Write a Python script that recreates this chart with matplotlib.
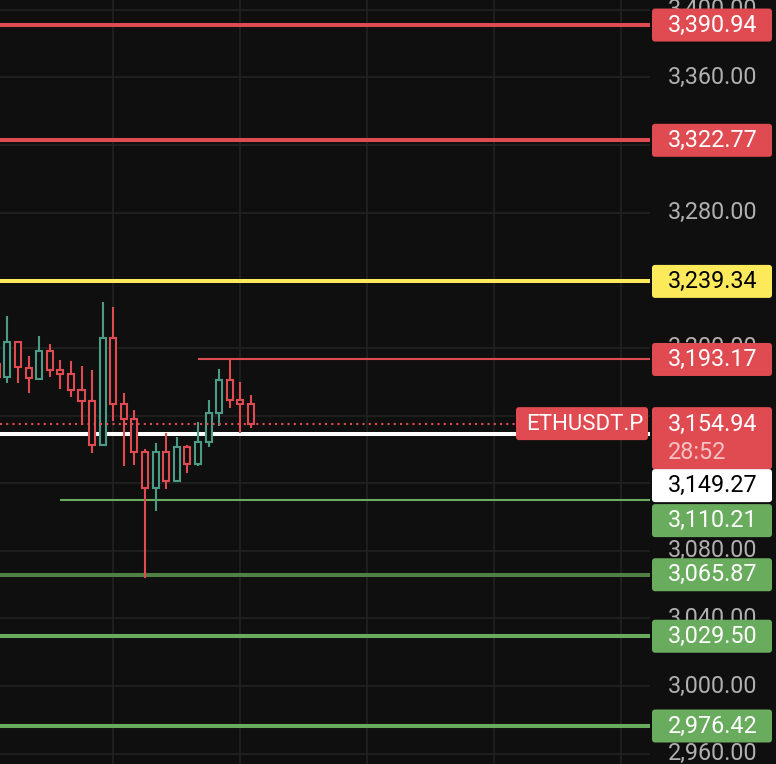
import matplotlib.pyplot as plt
from matplotlib.patches import Rectangle, FancyBboxPatch

plt.rcParams['font.family'] = ['Roboto', 'DejaVu Sans']

# candles (hourly), oldest first; the first one is mostly off-screen
opens = [3190.5, 3182.8, 3203.5, 3188.1, 3181.6, 3198.2, 3187.0, 3184.6, 3175.1, 3168.6,
         3142.6, 3205.9, 3166.8, 3158.0, 3138.4, 3117.2, 3138.4, 3121.3, 3141.4, 3131.3,
         3144.4, 3161.5, 3181.0, 3169.2, 3166.8]
highs = [3194.0, 3218.9, 3204.1, 3195.2, 3207.1, 3202.3, 3192.9, 3192.3, 3189.3, 3187.0,
         3227.2, 3224.2, 3173.4, 3163.3, 3140.2, 3143.8, 3149.7, 3147.3, 3142.6, 3156.2,
         3169.2, 3187.5, 3193.17, 3179.8, 3172.2]
lows = [3180.0, 3179.3, 3179.3, 3173.4, 3181.0, 3182.8, 3175.7, 3171.0, 3154.4, 3137.9,
        3142.6, 3156.8, 3130.2, 3130.8, 3063.9, 3103.6, 3116.6, 3121.3, 3126.0, 3130.2,
        3141.4, 3153.8, 3164.5, 3149.7, 3152.6]
closes = [3182.8, 3203.5, 3188.7, 3182.2, 3198.2, 3187.0, 3184.6, 3175.1, 3168.6, 3142.6,
          3205.9, 3166.8, 3158.0, 3138.4, 3117.2, 3138.4, 3121.3, 3141.4, 3131.3, 3144.4,
          3161.5, 3181.0, 3169.2, 3166.8, 3154.94]

# horizontal levels
levels = [3390.94, 3322.77, 3239.34, 3193.17, 3110.21, 3065.87, 3029.50, 2976.42]
level_colors = ['#e04b51', '#e04b51', '#fdea5a', '#e04b51', '#6aac5e', '#4f8044', '#6aac5e', '#6aac5e']
level_thick = [True, True, True, False, False, True, True, True]
level_start = [None, None, None, 19, 6, None, None, None]
label_colors = ['#e04b51', '#e04b51', '#fdea5a', '#e04b51', '#6aac5e', '#6aac5e', '#6aac5e', '#6aac5e']
label_text_colors = ['white', 'white', 'black', 'white', 'white', 'white', 'white', 'white']

last_price = 3154.94
countdown = '28:52'
symbol = 'ETHUSDT.P'
white_level = 3149.27

grid_prices = list(range(2960, 3401, 40))
# price-scale labels that are not fully covered by a tag
tick_prices = [3400, 3360, 3280, 3200, 3080, 3040, 3000, 2960]

BG = '#0f0f0f'
GRID = '#222222'
RED = '#e04b51'
GREEN = '#4a9c86'

W, H = 776, 764
plot_w = 650
ylo, yhi = 2953.95, 3405.75
ppu = H / (yhi - ylo)  # pixels per price unit

fig = plt.figure(figsize=(W / 100, H / 100), dpi=100, facecolor=BG)
ax = fig.add_axes([0, 0, plot_w / W, 1])
ax.set_facecolor(BG)
ax.set_xlim(0.3, 61.7)
ax.set_ylim(ylo, yhi)
ax.axis('off')
ax.patch.set_visible(True)

for p in grid_prices:
    ax.axhline(p, color=GRID, lw=1.2, zorder=0)
for k in [11, 23, 35, 47, 59]:
    ax.axvline(k, color=GRID, lw=1.2, zorder=0)

# candles: hollow bodies, wicks stop at the body
bw = 0.57
for i, (o, h, l, c) in enumerate(zip(opens, highs, lows, closes)):
    col = GREEN if c >= o else RED
    top, bot = max(o, c), min(o, c)
    ax.vlines(i, top, h, color=col, lw=1.5, zorder=3)
    ax.vlines(i, l, bot, color=col, lw=1.5, zorder=3)
    ax.add_patch(Rectangle((i - bw / 2, bot), bw, max(top - bot, 0.8),
                           facecolor=BG, edgecolor=col, lw=1.5, zorder=4))

for p, col, thick, st in zip(levels, level_colors, level_thick, level_start):
    x0 = 0.3 if st is None else st
    ax.hlines(p, x0, 61.7, color=col, lw=2.9 if thick else 1.5, zorder=2)

ax.axhline(white_level, color='white', lw=2.9, zorder=2)
ax.axhline(last_price, color=RED, lw=1.5, ls=(0, (1, 2)), zorder=5)

# overlay in figure pixels (x) and price (y) for the price scale
ov = fig.add_axes([0, 0, 1, 1])
ov.set_xlim(0, W)
ov.set_ylim(ylo, yhi)
ov.axis('off')
ov.patch.set_alpha(0)

fs = 16.8
tx = 668
for p in tick_prices:
    ov.text(tx, p, f'{p:,.2f}', color='#b0b0b0', fontsize=fs, va='center', ha='left', zorder=1)

box_h = 33 / ppu


def box(y_top, y_bot, color, x0=652, x1=772):
    ov.add_patch(FancyBboxPatch((x0, y_bot), x1 - x0, y_top - y_bot,
                                boxstyle='round,pad=0,rounding_size=3',
                                mutation_aspect=1 / ppu,
                                facecolor=color, edgecolor='none', zorder=3))


# fixed level labels
for p, col, tcol in zip(levels, label_colors, label_text_colors):
    if p == 3110.21:
        continue
    box(p + box_h / 2, p - box_h / 2, col)
    ov.text(tx, p, f'{p:,.2f}', color=tcol, fontsize=fs, va='center', ha='left', zorder=4)

# last price label with countdown, then stacked labels beneath it
top = last_price + 17 / ppu
bot = top - 62 / ppu
box(top, bot, RED)
ov.text(tx, last_price, f'{last_price:,.2f}', color='white', fontsize=fs, va='center', zorder=4)
ov.text(tx, last_price - 28 / ppu, countdown, color='#f6c2c5', fontsize=fs, va='center', zorder=4)

wt = bot
wb = wt - box_h
box(wt, wb, 'white')
ov.text(tx, (wt + wb) / 2, f'{white_level:,.2f}', color='black', fontsize=fs, va='center', zorder=4)

gt = wb - 2 / ppu
gb = gt - box_h
box(gt, gb, '#6aac5e')
ov.text(tx, (gt + gb) / 2, '3,110.21', color='white', fontsize=fs, va='center', zorder=4)

# symbol tag on the price line
box(last_price + 17 / ppu, last_price - 16 / ppu, RED, x0=516, x1=648)
ov.text(526, last_price, symbol, color='white', fontsize=16, va='center', ha='left', zorder=4)

fig.savefig('out.png', dpi=100, facecolor=BG)
plt.close(fig)
